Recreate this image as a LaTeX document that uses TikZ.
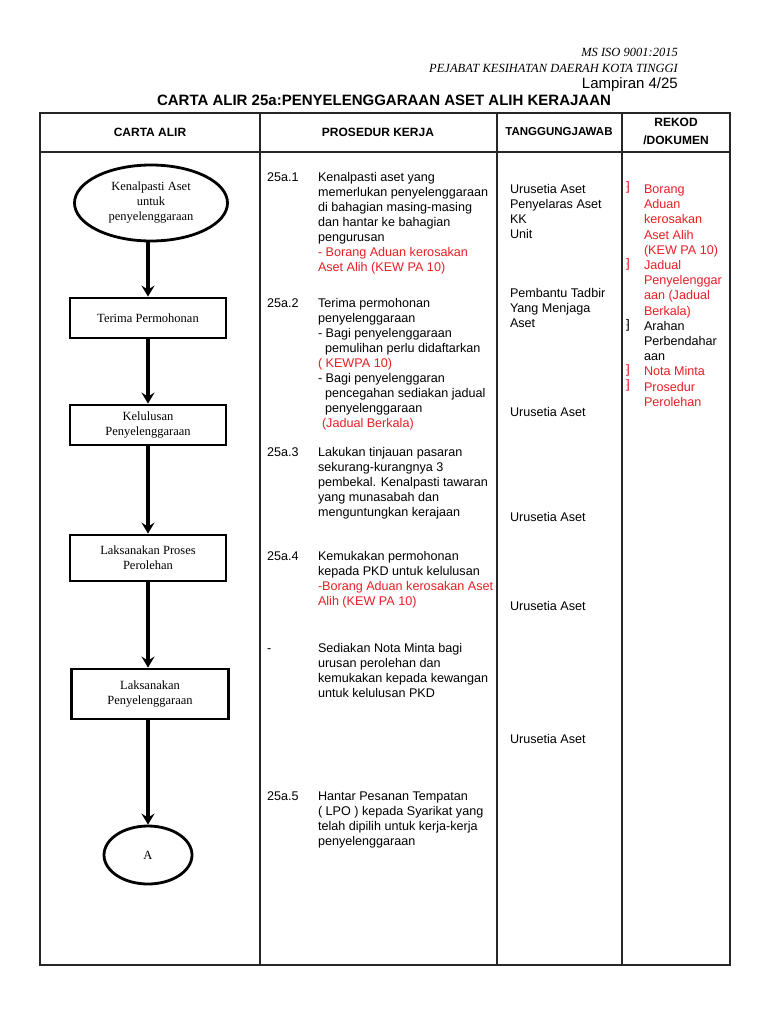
\documentclass[tikz,border=0pt]{standalone}
\usepackage{fontspec}
\setmainfont{Liberation Sans}
\newfontfamily\seriffont{Liberation Serif}
\newfontfamily\dejavu{DejaVu Sans}
\usetikzlibrary{shapes.geometric,arrows.meta}
\definecolor{rd}{RGB}{232,30,38}
\tikzset{
  grid/.style={line width=1.1pt,black!85},
  txt/.style={anchor=base west,inner sep=0,outer sep=0,align=left,font=\fontsize{12.6}{15}\selectfont},
  rek/.style={anchor=base west,inner sep=0,outer sep=0,align=left,font=\fontsize{12.6}{15.2}\selectfont},
  hdr/.style={inner sep=0,font=\bfseries\fontsize{12}{18}\selectfont,align=center},
  stepbox/.style={draw,line width=2.8pt,minimum width=156pt,align=center,inner sep=0,font=\seriffont\fontsize{12.5}{15}\selectfont},
  oval/.style={draw,ellipse,line width=2.8pt,align=center,inner sep=0,font=\seriffont\fontsize{12.5}{15}\selectfont},
  arr/.style={line width=3.2pt,-{Stealth[length=11pt,width=13pt,inset=4pt]}},
  bulletmark/.style={anchor=base west,inner sep=0,font=\dejavu\fontsize{13}{14}\selectfont}
}
\begin{document}
\begin{tikzpicture}[x=1pt,y=-1pt]
\useasboundingbox (0,0) rectangle (768,1024);
\fill[white] (0,0) rectangle (768,1024);
% page header
\node[anchor=base east,inner sep=0,font=\seriffont\itshape\fontsize{12.5}{14}\selectfont] (iso) at (678,57) {MS ISO 9001:2015};
\node[anchor=base east,inner sep=0,font=\seriffont\itshape\fontsize{12.5}{14}\selectfont] (pkd) at (678,73) {PEJABAT KESIHATAN DAERAH KOTA TINGGI};
\node[anchor=base east,inner sep=0,font=\fontsize{15}{17}\selectfont] (lamp) at (678,89) {Lampiran 4/25};
\node[anchor=base,inner sep=0,font=\bfseries\fontsize{15}{17}\selectfont] (title) at (384,106) {CARTA ALIR 25a:PENYELENGGARAAN ASET ALIH KERAJAAN};
% table
\draw[grid] (40,113) rectangle (730,965);
\draw[grid] (40,152) -- (730,152);
\draw[grid] (260,113) -- (260,965);
\draw[grid] (497,113) -- (497,965);
\draw[grid] (622,113) -- (622,965);
\node[hdr] (h1) at (150,132) {CARTA ALIR};
\node[hdr] (h2) at (378,132) {PROSEDUR KERJA};
\node[hdr,font=\bfseries\fontsize{11.5}{18}\selectfont] (h3) at (559,132) {TANGGUNGJAWAB};
\node[hdr] (h4) at (676,131) {REKOD\\/DOKUMEN};
% flowchart
\node[oval,minimum width=153pt,minimum height=76pt] (n0) at (151,203) {Kenalpasti Aset\\untuk\\penyelenggaraan};
\node[stepbox,minimum height=40pt] (n1) at (148,318) {Terima Permohonan};
\node[stepbox,minimum height=40pt] (n2) at (148,425) {Kelulusan\\Penyelenggaraan};
\node[stepbox,minimum height=46pt] (n3) at (148,558) {Laksanakan Proses\\Perolehan};
\node[stepbox,minimum height=50pt,minimum width=157pt] (n4) at (150,694) {Laksanakan\\Penyelenggaraan};
\node[oval,minimum width=88pt,minimum height=58pt] (nA) at (148,855) {A};
\draw[arr] (n1.north |- n0.south) -- (n1.north);
\draw[arr] (n2.north |- n1.south) -- (n2.north);
\draw[arr] (n3.north |- n2.south) -- (n3.north);
\draw[arr] (n3.south) -- (n4.north -| n3.south);
\draw[arr] (nA.north |- n4.south) -- (nA.north);
% procedures (anchor at baseline of last line)
\node[txt] (k1) at (267,181.5) {25a.1};
\node[txt] (p1) at (318,271.5) {Kenalpasti aset yang\\memerlukan penyelenggaraan\\di bahagian masing-masing\\dan hantar ke bahagian\\pengurusan\\\textcolor{rd}{- Borang Aduan kerosakan}\\\textcolor{rd}{Aset Alih (KEW PA 10)}};
\node[txt] (k2) at (267,307.5) {25a.2};
\node[txt] (p2) at (318,427.5) {Terima permohonan\\penyelenggaraan\\- Bagi penyelenggaraan\\\hspace*{7pt}pemulihan perlu didaftarkan\\\textcolor{rd}{( KEWPA 10)}\\- Bagi penyelenggaran\\\hspace*{7pt}pencegahan sediakan jadual\\\hspace*{7pt}penyelenggaraan\\\hspace*{4pt}\textcolor{rd}{(Jadual Berkala)}};
\node[txt] (k3) at (267,456.5) {25a.3};
\node[txt] (p3) at (318,516.5) {Lakukan tinjauan pasaran\\sekurang-kurangnya 3\\pembekal. Kenalpasti tawaran\\yang munasabah dan\\menguntungkan kerajaan};
\node[txt] (k4) at (267,560.5) {25a.4};
\node[txt] (p4) at (318,605.5) {Kemukakan permohonan\\kepada PKD untuk kelulusan\\\textcolor{rd}{-Borang Aduan kerosakan Aset}\\\textcolor{rd}{Alih (KEW PA 10)}};
\node[txt] (k5) at (267,652.5) {-};
\node[txt] (p5) at (318,697.5) {Sediakan Nota Minta bagi\\urusan perolehan dan\\kemukakan kepada kewangan\\untuk kelulusan PKD};
\node[txt] (k6) at (267,800.5) {25a.5};
\node[txt] (p6) at (318,845.5) {Hantar Pesanan Tempatan\\( LPO ) kepada Syarikat yang\\telah dipilih untuk kerja-kerja\\penyelenggaraan};
% responsibility
\node[txt] (t1) at (510,238.5) {Urusetia Aset\\Penyelaras Aset\\KK\\Unit};
\node[txt] (t2) at (510,327.5) {Pembantu Tadbir\\Yang Menjaga\\Aset};
\node[txt] (t3) at (510,416.5) {Urusetia Aset};
\node[txt] (t4) at (510,521.5) {Urusetia Aset};
\node[txt] (t5) at (510,610.5) {Urusetia Aset};
\node[txt] (t6) at (510,743.5) {Urusetia Aset};
% records
\node[rek] (r1) at (644,406.3) {\textcolor{rd}{Borang}\\\textcolor{rd}{Aduan}\\\textcolor{rd}{kerosakan}\\\textcolor{rd}{Aset Alih}\\\textcolor{rd}{(KEW PA 10)}\\\textcolor{rd}{Jadual}\\\textcolor{rd}{Penyelenggar}\\\textcolor{rd}{aan (Jadual}\\\textcolor{rd}{Berkala)}\\Arahan\\Perbendahar\\aan\\\textcolor{rd}{Nota Minta}\\\textcolor{rd}{Prosedur}\\\textcolor{rd}{Perolehan}};
\node[bulletmark,text=rd] (m1) at (625,192) {⁆};
\node[bulletmark,text=rd] (m2) at (625,268) {⁆};
\node[bulletmark,text=black] (m3) at (625,329) {⁆};
\node[bulletmark,text=rd] (m4) at (625,374.5) {⁆};
\node[bulletmark,text=rd] (m5) at (625,389.5) {⁆};
\end{tikzpicture}
\end{document}
